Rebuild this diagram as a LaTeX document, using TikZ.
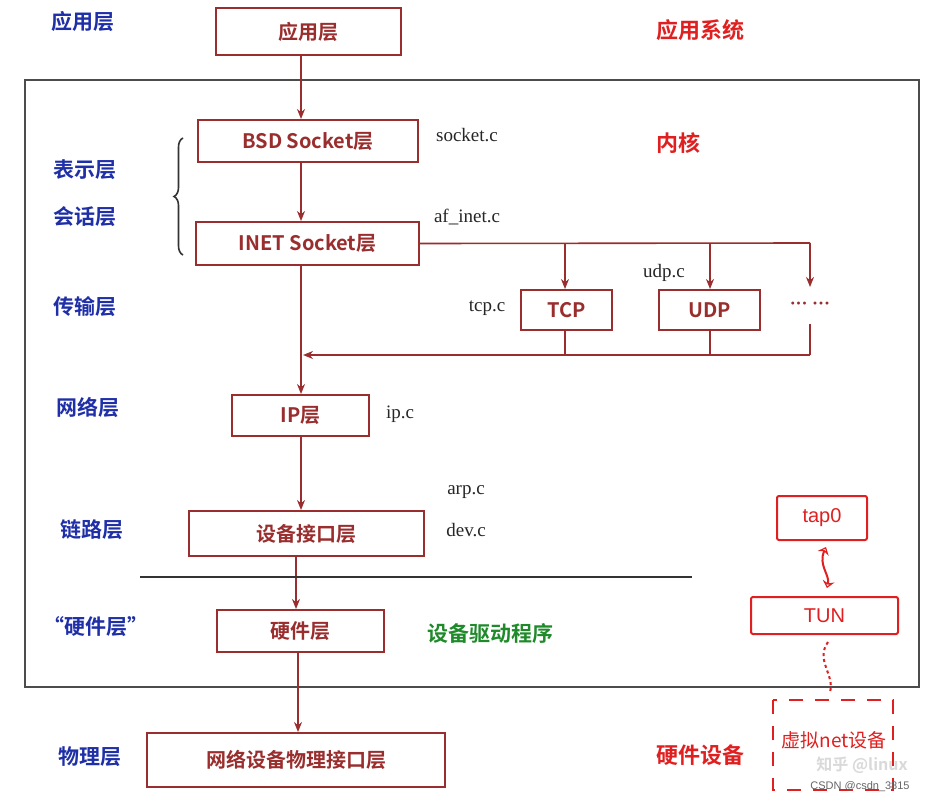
\documentclass[tikz,border=0pt]{standalone}
\usepackage{fontspec}
\setmainfont{Liberation Serif}
\newfontfamily\cjk{Noto Sans CJK SC}
\newfontfamily\cjkb{Noto Sans CJK SC Bold}
\newfontfamily\lsans{Liberation Sans}
\usetikzlibrary{arrows.meta,decorations.pathreplacing}
\definecolor{dred}{HTML}{9A2E2E}
\definecolor{lblue}{HTML}{1F2FA8}
\definecolor{rred}{HTML}{E02020}
\definecolor{lgreen}{HTML}{1F8A2A}
\begin{document}
\begin{tikzpicture}[x=1pt,y=-1pt,
  box/.style={draw=dred,line width=2pt,fill=white,text=dred,font=\cjkb\fontsize{20}{20}\selectfont},
  lay/.style={text=lblue,font=\cjkb\fontsize{21}{21}\selectfont},
  fn/.style={font=\fontsize{19}{19}\selectfont,text=black!85},
  con/.style={draw=dred,line width=1.6pt},
  arr/.style={con,-{Stealth[length=10pt,width=8pt]}},
  rbox/.style={draw=rred,line width=2pt,rounded corners=2pt,text=rred,font=\lsans\fontsize{20}{20}\selectfont}]
\useasboundingbox (0,0) rectangle (944,800);
\fill[white] (0,0) rectangle (944,800);
\node[text=black!15,font=\cjkb\fontsize{16}{16}\selectfont] at (862,765) {知乎 @linux};
\draw[black!70,line width=2pt] (25,80) rectangle (919,687);
% boxes
\node[box,minimum width=185pt,minimum height=47pt] (app) at (308.5,31.5) {应用层};
\node[box,minimum width=220pt,minimum height=42pt] (bsd) at (308,141) {BSD Socket层};
\node[box,minimum width=223pt,minimum height=43pt] (inet) at (307.5,243.5) {INET Socket层};
\node[box,minimum width=91pt,minimum height=40pt] (tcp) at (566.5,310) {TCP};
\node[box,minimum width=101pt,minimum height=40pt] (udp) at (709.5,310) {UDP};
\node[font=\bfseries\fontsize{18}{18}\selectfont,text=dred] (dots) at (810,306) {··· ···};
\node[box,minimum width=137pt,minimum height=41pt] (ip) at (300.5,415.5) {IP层};
\node[box,minimum width=235pt,minimum height=45pt] (dev) at (306.5,533.5) {设备接口层};
\node[box,minimum width=167pt,minimum height=42pt] (hw) at (300.5,631) {硬件层};
\node[box,minimum width=298pt,minimum height=54pt] (phy) at (296,760) {网络设备物理接口层};
% connectors
\draw[arr] (app.south -| 301,0) -- (bsd.north -| 301,0);
\draw[arr] (bsd.south -| 301,0) -- (inet.north -| 301,0);
\draw[arr] (inet.south -| 301,0) -- (ip.north -| 301,0);
\draw[arr] (ip.south -| 301,0) -- (dev.north -| 301,0);
\draw[arr] (dev.south -| 296,0) -- (hw.north -| 296,0);
\draw[arr] (hw.south -| 298,0) -- (phy.north -| 298,0);
\coordinate (r) at (810,243);
\draw[con] (inet.east) -- (r);
\draw[arr] (565,243) -- (tcp.north -| 565,0);
\draw[arr] (710,243) -- (udp.north -| 710,0);
\draw[arr] (r) -- (810,287);
\coordinate (rb) at (810,355);
\draw[con] (tcp.south -| 565,0) -- (565,355);
\draw[con] (udp.south -| 710,0) -- (710,355);
\draw[con] (810,324) -- (rb);
\draw[arr] (rb) -- (303,355);
\draw[black!80,line width=2pt] (140,577) -- (692,577);
% brace
\draw[black!80,line width=1.6pt,decorate,decoration={brace,amplitude=9pt}] (183,255) -- (183,138);
% labels
\node[lay] at (83,22) {应用层};
\node[lay] at (85,170) {表示层};
\node[lay] at (85,217) {会话层};
\node[lay] at (85,307) {传输层};
\node[lay] at (88,407) {网络层};
\node[lay] at (92,530) {链路层};
\node[lay] at (96,627) {“硬件层”};
\node[lay] at (90,757) {物理层};
\node[text=rred,font=\cjkb\fontsize{22}{22}\selectfont] at (700,30) {应用系统};
\node[text=rred,font=\cjkb\fontsize{22}{22}\selectfont] at (678,143) {内核};
\node[text=rred,font=\cjkb\fontsize{22}{22}\selectfont] at (700,755) {硬件设备};
\node[text=lgreen,font=\cjkb\fontsize{21}{21}\selectfont] at (490,633) {设备驱动程序};
\node[fn] at (467,135) {socket.c};
\node[fn] at (467,217) {af\_inet.c};
\node[fn] at (487,308) {tcp.c};
\node[fn] at (664,273) {udp.c};
\node[fn] at (400,414) {ip.c};
\node[fn] at (466,492) {arp.c};
\node[fn] at (466,530) {dev.c};
% red annotations
\node[rbox,minimum width=90pt,minimum height=44pt] (tap) at (822,518) {tap0};
\node[rbox,minimum width=147pt,minimum height=37pt] (tun) at (824.5,615.5) {TUN};
\draw[rred,line width=2pt,<->,>={Stealth[length=7pt,width=12pt,open]}] (826,547) .. controls (818,565) and (830,575) .. (827,588);
\draw[rred,line width=2pt,dashed] (828,642) .. controls (815,660) and (835,675) .. (830,692);
\draw[rred,line width=2pt,dash pattern=on 14pt off 12pt] (773,700) rectangle (893,790);
\node[text=rred,font=\cjk\fontsize{19}{19}\selectfont] (virt) at (834,740) {虚拟net设备};
\node[text=black!60,font=\lsans\fontsize{11}{11}\selectfont] at (860,787) {CSDN @csdn\_3815};
\end{tikzpicture}
\end{document}
